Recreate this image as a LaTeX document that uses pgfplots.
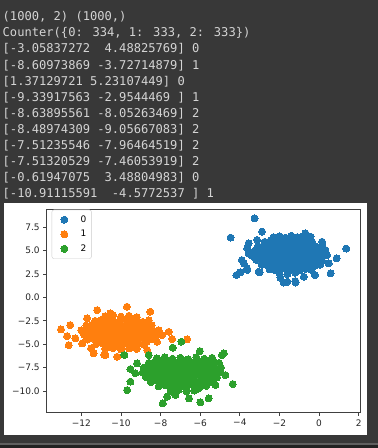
\documentclass[border=0pt]{standalone}
\usepackage{pgfplots}
\pgfplotsset{compat=1.18}
\usepackage{fontspec}
\setmainfont{DejaVu Sans}
\newfontfamily\monofont{DejaVu Sans Mono}
\definecolor{bg}{HTML}{383838}
\definecolor{txt}{HTML}{D4D4D4}
\definecolor{c0}{HTML}{1F77B4}
\definecolor{c1}{HTML}{FF7F0E}
\definecolor{c2}{HTML}{2CA02C}
\newcommand\tl[2]{\node[anchor=base west,inner sep=0pt,text=txt,font=\monofont\fontsize{12.1}{14}\selectfont] at (2.5pt,-#1pt) {#2};}
\begin{document}
\begin{tikzpicture}
\useasboundingbox (0pt,0pt) rectangle (378pt,-448pt);
\fill[bg] (0pt,0pt) rectangle (378pt,-448pt);
\fill[black!40!bg] (0pt,-443.5pt) rectangle (378pt,-448pt);
\fill[white!20!bg] (0pt,-443.3pt) rectangle (378pt,-444.6pt);
\tl{20.7}{(1000, 2) (1000,)}
\tl{36.8}{Counter(\{0: 334, 1: 333, 2: 333\})}
\tl{52.9}{[-3.05837272\ \ 4.48825769] 0}
\tl{69.0}{[-8.60973869 -3.72714879] 1}
\tl{85.1}{[1.37129721 5.23107449] 0}
\tl{101.2}{[-9.33917563 -2.9544469\ ] 1}
\tl{117.2}{[-8.63895561 -8.05263469] 2}
\tl{133.3}{[-8.48974309 -9.05667083] 2}
\tl{149.4}{[-7.51235546 -7.96464519] 2}
\tl{165.5}{[-7.51320529 -7.46053919] 2}
\tl{181.6}{[-0.61947075\ \ 3.48804983] 0}
\tl{197.7}{[-10.91115591\ \ -4.5772537\ ] 1}
\fill[white] (4pt,-203.3pt) rectangle (366.7pt,-435pt);
\begin{axis}[
  at={(46.7pt,-412.4pt)}, anchor=south west,
  scale only axis, width=313.8pt, height=203.3pt,
  xmin=-13.75, xmax=2.09, ymin=-12.29, ymax=9.45,
  axis line style={draw=black!75, line width=0.8pt},
  tick align=outside, tick pos=left,
  major tick length=3.5pt,
  tick style={black!75, line width=0.8pt},
  xtick={-12,-10,-8,-6,-4,-2,0,2},
  xticklabels={−12,−10,−8,−6,−4,−2,0,2},
  ytick={-10,-7.5,-5,-2.5,0,2.5,5,7.5},
  yticklabels={−10.0,−7.5,−5.0,−2.5,0.0,2.5,5.0,7.5},
  ticklabel style={font=\fontsize{9}{10}\selectfont, text=black!85},
  legend style={at={(0.016,0.997)}, anchor=north west, draw=black!20, rounded corners=2pt,
    fill=white, font=\fontsize{9}{10}\selectfont, inner xsep=3pt, inner ysep=3.7pt, row sep=2.4pt,
    nodes={inner sep=2pt, text depth=0.15em}},
  legend cell align=left,
  legend image code/.code={\path[draw=none,fill=none] (0pt,-3.3pt) rectangle (23.8pt,3.3pt); \draw[#1] plot coordinates {(9.5pt,0pt)};},
  clip=false,
]
\addplot[only marks, mark=*, mark size=3.5pt, mark options={draw=c0, fill=c0, line width=0pt}] coordinates {
(-2.3,6.45) (-2.0,6.55) (-1.7,6.4) (-1.4,6.6) (-1.1,6.45) (-0.8,6.55) (-0.55,6.35)
(-2.75,5.95) (-2.45,6.1) (-2.15,5.9) (-1.85,6.05) (-1.55,5.95) (-1.25,6.1) (-0.95,5.9) (-0.65,6.05) (-0.35,5.95)
(-3.1,5.45) (-2.8,5.6) (-2.5,5.4) (-2.2,5.55) (-1.9,5.45) (-1.6,5.6) (-1.3,5.4) (-1.0,5.55) (-0.7,5.45) (-0.4,5.6) (-0.1,5.4) (0.15,5.5)
(-3.25,5.0) (-2.95,4.9) (-2.65,5.05) (-2.35,4.95) (-2.05,5.1) (-1.75,4.9) (-1.45,5.05) (-1.15,4.95) (-0.85,5.1) (-0.55,4.9) (-0.25,5.05) (0.05,4.95) (0.3,5.05)
(-3.4,4.5) (-3.1,4.4) (-2.8,4.55) (-2.5,4.45) (-2.2,4.6) (-1.9,4.4) (-1.6,4.55) (-1.3,4.45) (-1.0,4.6) (-0.7,4.4) (-0.4,4.55) (-0.1,4.45) (0.2,4.5)
(-3.15,4.0) (-2.85,3.9) (-2.55,4.05) (-2.25,3.95) (-1.95,4.1) (-1.65,3.9) (-1.35,4.05) (-1.05,3.95) (-0.75,4.1) (-0.45,3.9) (-0.15,4.05) (0.15,3.95)
(-2.9,3.5) (-2.6,3.4) (-2.3,3.55) (-2.0,3.45) (-1.7,3.6) (-1.4,3.4) (-1.1,3.55) (-0.8,3.45) (-0.5,3.6) (-0.2,3.4) (0.05,3.5)
(-2.5,3.0) (-2.2,2.9) (-1.9,3.05) (-1.6,2.95) (-1.3,3.1) (-1.0,2.9) (-0.7,3.05) (-0.4,2.95)
(-2.0,2.6) (-1.6,2.5) (-1.2,2.65)
(-2.15,6.25) (-1.55,6.2) (-0.95,6.25) (-2.95,5.25) (-2.35,5.3) (-1.75,5.25) (-1.15,5.3) (-0.55,5.25) (0.0,5.2)
(-3.25,4.25) (-2.65,4.3) (-2.05,4.25) (-1.45,4.3) (-0.85,4.25) (-0.25,4.3) (-2.75,3.7) (-2.15,3.75) (-1.55,3.7) (-0.95,3.75) (-0.35,3.7)
(-2.35,3.25) (-1.75,3.2) (-1.15,3.25) (-0.55,3.2)
(-3.26,8.46) (-4.47,6.4) (1.37,5.23) (-3.06,4.49) (-0.62,3.49) (-4.17,2.4) (-3.97,2.7) (-3.63,2.94) (-3.0,2.7)
(-1.78,1.6) (-1.19,1.6) (-0.77,2.22) (-0.21,2.4) (0.58,2.58) (0.49,3.65) (0.88,4.18) (0.32,5.08) (0.16,5.68)
(-0.43,6.5) (-0.64,6.68) (-2.88,7.04) (-3.13,6.15) (-3.63,5.25) (-3.55,4.72) (-3.8,3.65)
(-1.6,1.68) (-1.2,1.76) (-1.95,2.11) (-3.05,2.75) (-3.64,3.12) (-3.9,4.0) (-3.56,5.79) (-0.69,6.86) (0.15,5.96) (0.4,4.54)
};
\addlegendentry{0}
\addplot[only marks, mark=*, mark size=3.5pt, mark options={draw=c1, fill=c1, line width=0pt}] coordinates {
(-10.8,-2.0) (-10.4,-1.9) (-10.0,-2.05) (-9.6,-1.95) (-9.2,-2.1)
(-11.3,-2.5) (-11.0,-2.4) (-10.7,-2.55) (-10.4,-2.45) (-10.1,-2.6) (-9.8,-2.4) (-9.5,-2.55) (-9.2,-2.45) (-8.9,-2.6) (-8.6,-2.45)
(-11.75,-3.0) (-11.45,-2.9) (-11.15,-3.05) (-10.85,-2.95) (-10.55,-3.1) (-10.25,-2.9) (-9.95,-3.05) (-9.65,-2.95) (-9.35,-3.1) (-9.05,-2.9) (-8.75,-3.05) (-8.45,-2.95)
(-12.0,-3.5) (-11.7,-3.4) (-11.4,-3.55) (-11.1,-3.45) (-10.8,-3.6) (-10.5,-3.4) (-10.2,-3.55) (-9.9,-3.45) (-9.6,-3.6) (-9.3,-3.4) (-9.0,-3.55) (-8.7,-3.45) (-8.4,-3.6) (-8.1,-3.5)
(-11.85,-4.0) (-11.55,-3.9) (-11.25,-4.05) (-10.95,-3.95) (-10.65,-4.1) (-10.35,-3.9) (-10.05,-4.05) (-9.75,-3.95) (-9.45,-4.1) (-9.15,-3.9) (-8.85,-4.05) (-8.55,-3.95) (-8.25,-4.1) (-7.95,-4.0)
(-11.7,-4.5) (-11.4,-4.4) (-11.1,-4.55) (-10.8,-4.45) (-10.5,-4.6) (-10.2,-4.4) (-9.9,-4.55) (-9.6,-4.45) (-9.3,-4.6) (-9.0,-4.4) (-8.7,-4.55) (-8.4,-4.45)
(-11.25,-5.0) (-10.95,-4.9) (-10.65,-5.05) (-10.35,-4.95) (-10.05,-5.1) (-9.75,-4.9) (-9.45,-5.05) (-9.15,-4.95) (-8.85,-5.05)
(-10.8,-5.5) (-10.4,-5.4) (-10.0,-5.55) (-9.6,-5.45) (-9.2,-5.5)
(-10.6,-2.25) (-10.0,-2.3) (-9.4,-2.25) (-11.3,-2.75) (-10.7,-2.8) (-10.1,-2.75) (-9.5,-2.8) (-8.9,-2.75)
(-11.55,-3.25) (-10.95,-3.3) (-10.35,-3.25) (-9.75,-3.3) (-9.15,-3.25) (-8.55,-3.3)
(-11.7,-3.75) (-11.1,-3.8) (-10.5,-3.75) (-9.9,-3.8) (-9.3,-3.75) (-8.7,-3.8) (-8.1,-3.75)
(-11.55,-4.25) (-10.95,-4.3) (-10.35,-4.25) (-9.75,-4.3) (-9.15,-4.25) (-8.55,-4.3)
(-11.1,-4.75) (-10.5,-4.8) (-9.9,-4.75) (-9.3,-4.8) (-8.7,-4.75) (-10.6,-5.25) (-10.0,-5.3) (-9.4,-5.25)
(-13.03,-3.41) (-12.72,-4.13) (-12.64,-5.09) (-11.96,-4.92) (-11.38,-5.98) (-10.79,-6.15) (-10.2,-6.34) (-9.7,-0.99)
(-11.2,-1.35) (-8.52,-1.53) (-7.92,-4.02) (-7.59,-3.67) (-8.18,-4.74) (-8.68,-5.62) (-12.3,-4.37) (-12.56,-2.95)
(-11.71,-2.23) (-10.54,-1.7) (-6.66,-4.48) (-7.42,-4.44) (-8.61,-3.73) (-9.34,-2.95) (-10.91,-4.58) (-10.84,-6.15) (-11.51,-5.44)
};
\addlegendentry{1}
\addplot[only marks, mark=*, mark size=3.5pt, mark options={draw=c2, fill=c2, line width=0pt}] coordinates {
(-8.2,-6.5) (-7.8,-6.4) (-7.4,-6.55) (-7.0,-6.45) (-6.6,-6.6) (-6.2,-6.4) (-5.8,-6.55) (-5.4,-6.45)
(-8.6,-7.0) (-8.3,-6.9) (-8.0,-7.05) (-7.7,-6.95) (-7.4,-7.1) (-7.1,-6.9) (-6.8,-7.05) (-6.5,-6.95) (-6.2,-7.1) (-5.9,-6.9) (-5.6,-7.05) (-5.3,-6.95) (-5.05,-7.0)
(-8.85,-7.5) (-8.55,-7.4) (-8.25,-7.55) (-7.95,-7.45) (-7.65,-7.6) (-7.35,-7.4) (-7.05,-7.55) (-6.75,-7.45) (-6.45,-7.6) (-6.15,-7.4) (-5.85,-7.55) (-5.55,-7.45) (-5.25,-7.6) (-4.95,-7.5)
(-8.9,-8.0) (-8.6,-7.9) (-8.3,-8.05) (-8.0,-7.95) (-7.7,-8.1) (-7.4,-7.9) (-7.1,-8.05) (-6.8,-7.95) (-6.5,-8.1) (-6.2,-7.9) (-5.9,-8.05) (-5.6,-7.95) (-5.3,-8.1) (-5.0,-8.0)
(-8.75,-8.5) (-8.45,-8.4) (-8.15,-8.55) (-7.85,-8.45) (-7.55,-8.6) (-7.25,-8.4) (-6.95,-8.55) (-6.65,-8.45) (-6.35,-8.6) (-6.05,-8.4) (-5.75,-8.55) (-5.45,-8.45) (-5.15,-8.55)
(-8.5,-9.0) (-8.2,-8.9) (-7.9,-9.05) (-7.6,-8.95) (-7.3,-9.1) (-7.0,-8.9) (-6.7,-9.05) (-6.4,-8.95) (-6.1,-9.1) (-5.8,-8.9) (-5.5,-9.0)
(-8.1,-9.5) (-7.75,-9.4) (-7.4,-9.55) (-7.05,-9.45) (-6.7,-9.6) (-6.35,-9.4) (-6.0,-9.55) (-5.7,-9.45)
(-7.5,-10.0) (-7.1,-9.9) (-6.7,-10.05) (-6.3,-9.95)
(-8.0,-6.75) (-7.4,-6.8) (-6.8,-6.75) (-6.2,-6.8) (-5.6,-6.75) (-8.45,-7.25) (-7.85,-7.3) (-7.25,-7.25) (-6.65,-7.3) (-6.05,-7.25) (-5.45,-7.3)
(-8.7,-7.75) (-8.1,-7.8) (-7.5,-7.75) (-6.9,-7.8) (-6.3,-7.75) (-5.7,-7.8) (-5.1,-7.75)
(-8.6,-8.25) (-8.0,-8.3) (-7.4,-8.25) (-6.8,-8.3) (-6.2,-8.25) (-5.6,-8.3)
(-8.3,-8.75) (-7.7,-8.8) (-7.1,-8.75) (-6.5,-8.8) (-5.9,-8.75) (-5.35,-8.8)
(-8.0,-9.25) (-7.4,-9.3) (-6.8,-9.25) (-6.2,-9.3) (-5.65,-9.25) (-7.3,-9.75) (-6.7,-9.8) (-6.1,-9.75)
(-9.83,-6.15) (-6.95,-4.73) (-6.02,-5.73) (-4.36,-9.26) (-9.69,-9.9) (-9.52,-9.0) (-7.89,-11.32) (-5.99,-11.22)
(-5.57,-10.79) (-7.39,-5.37) (-4.9,-6.15) (-9.52,-7.65) (-7.67,-10.6) (-4.73,-8.3) (-4.81,-5.98) (-8.6,-6.16)
(-9.19,-7.05) (-9.28,-8.1) (-6.57,-10.79) (-7.25,-10.44) (-5.23,-9.37) (-8.64,-8.05) (-8.49,-9.06) (-7.51,-7.96) (-7.51,-7.46)
};
\addlegendentry{2}
\end{axis}
\end{tikzpicture}
\end{document}
